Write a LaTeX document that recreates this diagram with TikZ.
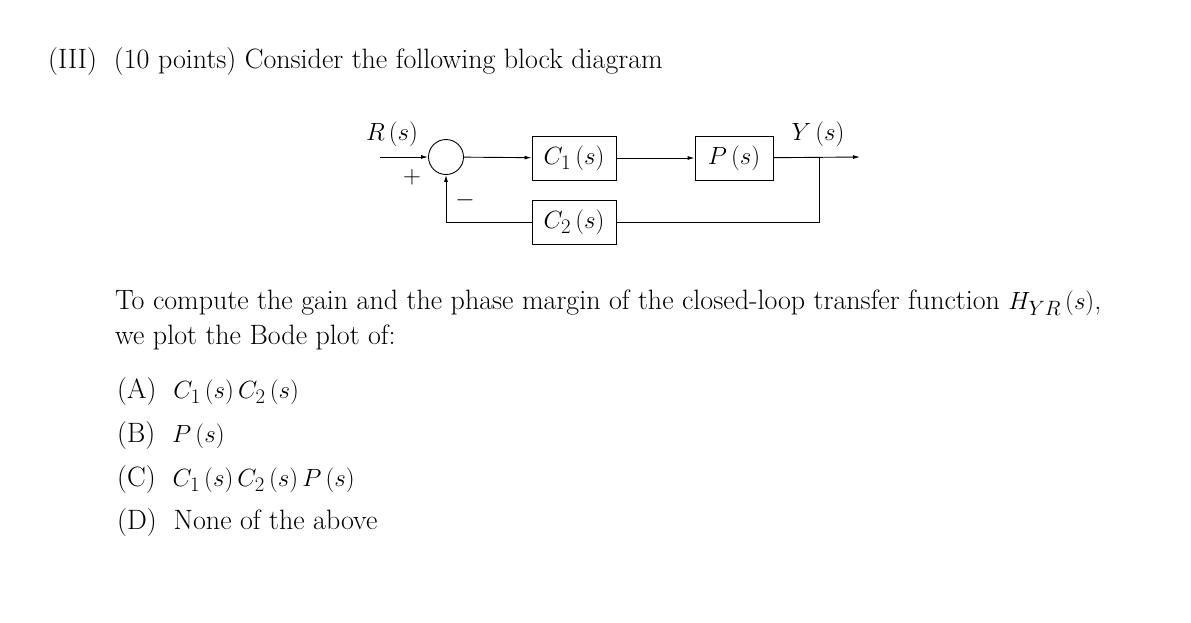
\documentclass[tikz,border=0pt]{standalone}
\usetikzlibrary{arrows.meta}
\begin{document}
\begin{tikzpicture}[x=1pt,y=-1pt,
  blk/.style={draw,line width=0.9pt,minimum width=84pt,minimum height=44pt,inner sep=0pt,font=\fontsize{29}{34}\selectfont},
  ln/.style={line width=0.9pt},
  arr/.style={ln,-{Latex[length=7pt,width=4pt]}},
  txt/.style={anchor=west,inner sep=0pt,font=\fontsize{28}{34}\selectfont},
  lab/.style={inner sep=0pt,font=\fontsize{29}{34}\selectfont}]
\useasboundingbox (0,0) rectangle (1191,622);
\node[txt] (title) at (48,62) {(III)\ \ (10 points) Consider the following block diagram};
\node[draw,circle,line width=0.9pt,minimum size=35pt,inner sep=0pt] (sum) at (446,157) {};
\node[blk] (c1) at (574,158) {$C_1\left(s\right)$};
\node[blk,minimum width=78pt] (p) at (734,158) {$P\left(s\right)$};
\node[blk] (c2) at (574,222) {$C_2\left(s\right)$};
\coordinate (in) at (380,157);
\coordinate (out) at (860,157);
\coordinate (br) at (819,157);
\draw[arr] (in) -- (sum);
\draw[arr] (sum) -- (c1);
\draw[arr] (c1) -- (p);
\draw[arr] (p) -- (out);
\draw[ln] (br) |- (c2.east);
\draw[arr] (c2.west) -| (sum.south);
\node[lab] (R) at (392,134) {$R\left(s\right)$};
\node[lab] (Y) at (818,134) {$Y\left(s\right)$};
\node[lab] (plus) at (412,177) {$+$};
\node[lab] (minus) at (465,200) {$-$};
\node[txt] (l1) at (115,303) {To compute the gain and the phase margin of the closed-loop transfer function $H_{YR}\left(s\right)$,};
\node[txt] (l2) at (115,337) {we plot the Bode plot of:};
\node[txt] (a) at (117,392) {(A)\ \ $C_1\left(s\right)C_2\left(s\right)$};
\node[txt] (b) at (117,436) {(B)\ \ $P\left(s\right)$};
\node[txt] (c) at (117,480) {(C)\ \ $C_1\left(s\right)C_2\left(s\right)P\left(s\right)$};
\node[txt] (d) at (117,523) {(D)\ \ None of the above};
\end{tikzpicture}
\end{document}
